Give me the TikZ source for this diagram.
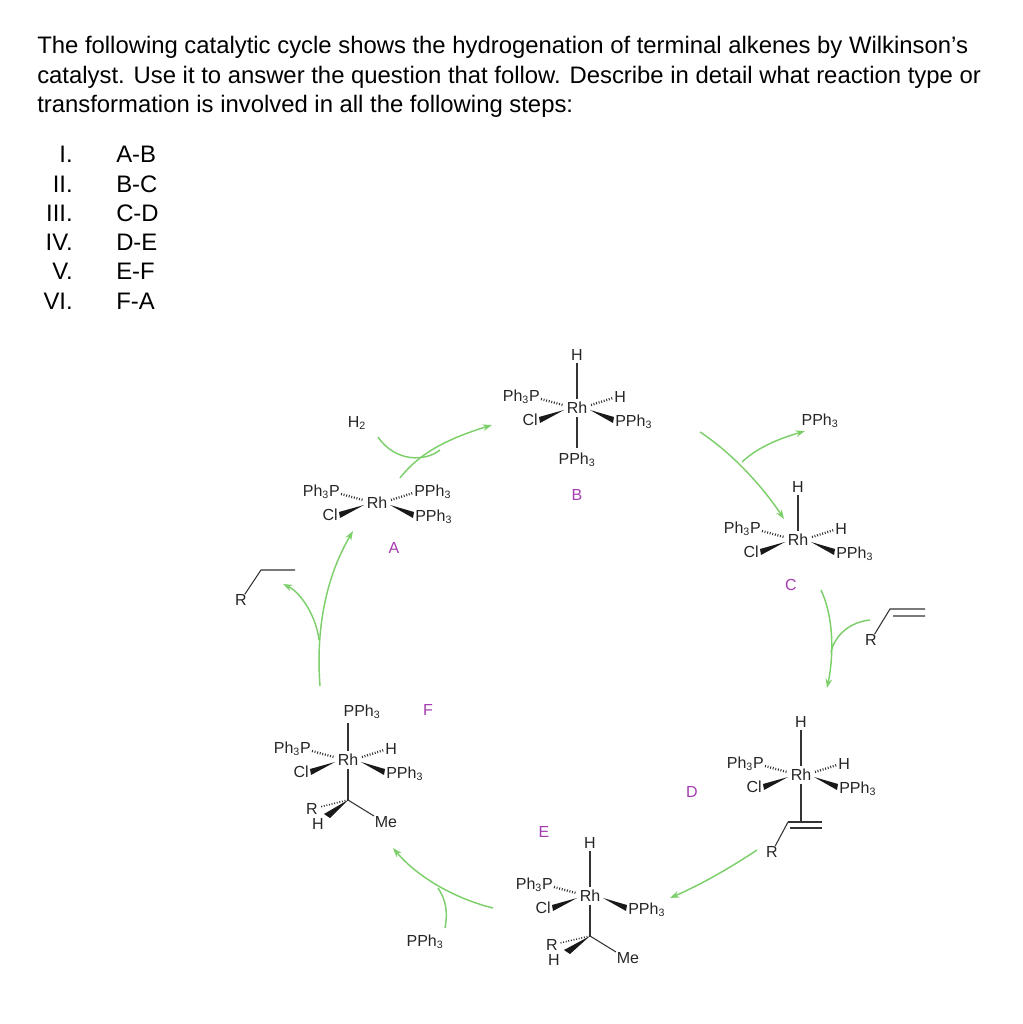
\documentclass[tikz,border=0pt]{standalone}
\usepackage{fontspec}
\setmainfont{Liberation Sans}
\usetikzlibrary{arrows.meta,calc}
\definecolor{arrg}{HTML}{7CCF6A}
\definecolor{mag}{HTML}{A43BB0}
\newcommand\chemf{\fontsize{12}{13}\selectfont}
\newcommand\hdf{\fontsize{17.9}{20}\selectfont}
\tikzset{
 lab/.style={font=\chemf,inner sep=0pt,text=black!85},
 letter/.style={font=\chemf,inner sep=0pt,text=mag},
 hashb/.style={line width=1.8pt,draw=black!80,dash pattern=on 0.7pt off 1.3pt},
 bnd/.style={line width=0.8pt,draw=black!80},
 wdg/.style={fill=black!90},
 arr/.style={draw=arrg,line width=1.1pt,-{Stealth[length=7pt,width=5pt]}},
 cyc/.style={draw=arrg,line width=1.1pt},
 hd/.style={font=\hdf,inner sep=0pt,anchor=base west}
}
% #1 prefix, #2 x, #3 y, #4 hashed-right label, #5 wedge-right label
\newcommand\rhcore[5]{%
\begin{scope}[shift={(#2,#3)}]
 \node[lab] (#1rh) at (0,0) {Rh};
 \node[lab,anchor=east] (#1pl) at (-37,-11) {Ph\textsubscript{3}P};
 \draw[hashb] (-36,-9) -- (-14,-3);
 \node[lab,anchor=east] (#1cl) at (-39,12) {Cl};
 \fill[wdg] (-13,2) -- (-38,9) -- (-37,15) -- cycle;
 \draw[hashb] (14,-3) -- (36,-10);
 \node[lab,anchor=west] (#1hr) at (37,-11) {#4};
 \fill[wdg] (13,2) -- (37,9) -- (36,15) -- cycle;
 \node[lab,anchor=west] (#1wr) at (38,14) {#5};
\end{scope}}
\newcommand\Pph{PPh\textsubscript{3}}
\begin{document}
\begin{tikzpicture}[x=0.75pt,y=-0.75pt]
\useasboundingbox (0,0) rectangle (1023,1024);
% header
\node[hd] (t1) at (37,54) {The following catalytic cycle shows the hydrogenation of terminal alkenes by Wilkinson’s};
\node[hd] (t2) at (37,84) {catalyst. Use it to answer the question that follow. Describe in detail what reaction type or};
\node[hd] (t3) at (37,113) {transformation is involved in all the following steps:};
\foreach \r/\s/\yy in {I./A-B/162,II./B-C/192,III./C-D/221,IV./D-E/250,V./E-F/279,VI./F-A/309}{
 \node[font=\hdf,inner sep=0pt,anchor=base east] at (73,\yy) {\r};
 \node[hd] at (116,\yy) {\s};
}
% A
\rhcore{a}{377}{503}{\Pph}{\Pph}
\node[letter] (la) at (394,548) {A};
% B
\rhcore{b}{577}{408}{H}{\Pph}
\node[lab] (bht) at (577,355) {H};
\draw[bnd] ([yshift=-2pt]bht.south) -- ([yshift=2pt]brh.north);
\node[lab] (bpb) at (577,460) {\Pph};
\draw[bnd] ([yshift=-2pt]brh.south) -- (577,448);
\node[letter] (lb) at (577,495) {B};
% C
\rhcore{c}{798}{540}{H}{\Pph}
\node[lab] (cht) at (798,487) {H};
\draw[bnd] ([yshift=-2pt]cht.south) -- ([yshift=2pt]crh.north);
\node[letter] (lc) at (791,585) {C};
% D
\rhcore{d}{801}{775}{H}{\Pph}
\node[lab] (dht) at (801,722) {H};
\draw[bnd] ([yshift=-2pt]dht.south) -- ([yshift=2pt]drh.north);
\coordinate (dc) at (801,822);
\draw[bnd] ([yshift=-2pt]drh.south) -- (dc);
\draw[bnd] (788,822) -- (822,822) (790,828) -- (822,828);
\node[lab] (dr) at (772,852) {R};
\draw[bnd] (788,822) -- (dr);
\node[letter] (ld) at (692,792) {D};
% E
\begin{scope}[shift={(590,896)}]
 \node[lab] (erh) at (0,0) {Rh};
 \node[lab,anchor=east] (epl) at (-37,-11) {Ph\textsubscript{3}P};
 \draw[hashb] (-36,-9) -- (-14,-3);
 \node[lab,anchor=east] (ecl) at (-39,12) {Cl};
 \fill[wdg] (-13,2) -- (-38,9) -- (-37,15) -- cycle;
 \fill[wdg] (13,2) -- (37,9) -- (36,15) -- cycle;
 \node[lab,anchor=west] (ewr) at (38,14) {\Pph};
 \node[lab] (eht) at (0,-53) {H};
 \draw[bnd] ([yshift=-2pt]eht.south) -- ([yshift=2pt]erh.north);
 \coordinate (ec) at (0,40);
 \draw[bnd] ([yshift=-2pt]erh.south) -- (ec);
 \node[lab] (eme) at (38,62) {Me};
 \draw[bnd] (ec) -- (26,56);
 \node[lab] (er) at (-38,49) {R};
 \draw[hashb,line width=1.2pt] (ec) -- (-30,47);
 \node[lab] (eh) at (-36,64) {H};
 \fill[wdg] (ec) -- (-20,58) -- (-26,54) -- cycle;
\end{scope}
\node[letter] (le) at (544,832) {E};
% F
\rhcore{f}{348}{760}{H}{\Pph}
\node[lab] (fpt) at (362,712) {\Pph};
\draw[bnd] (348,723) -- ([yshift=2pt]frh.north);
\begin{scope}[shift={(348,760)}]
 \coordinate (fc) at (0,40);
 \draw[bnd] ([yshift=-2pt]frh.south) -- (fc);
 \node[lab] (fme) at (38,62) {Me};
 \draw[bnd] (fc) -- (26,56);
 \node[lab] (fr) at (-36,49) {R};
 \draw[hashb,line width=1.2pt] (fc) -- (-28,47);
 \node[lab] (fh) at (-30,64) {H};
 \fill[wdg] (fc) -- (-18,58) -- (-24,54) -- cycle;
\end{scope}
\node[letter] (lf) at (428,710) {F};
% free species
\node[lab] (h2) at (357,423) {H\textsubscript{2}};
\node[lab] (p1) at (820,421) {\Pph};
\node[lab] (p2) at (425,942) {\Pph};
\node[lab] (ra) at (241,600) {R};
\draw[bnd] (ra) -- (261,570) -- (295,570);
\node[lab] (rb) at (871,640) {R};
\draw[bnd] (rb) -- (890,609) -- (925,609) (893,616) -- (925,616);
% arrows
\draw[arr] (400,478) .. controls (420,452) and (450,438) .. (492,425);
\draw[cyc] (378,437) .. controls (395,462) and (425,462) .. (440,450);
\draw[arr] (700,432) .. controls (735,455) and (765,490) .. (784,519);
\draw[arr] (742,462) .. controls (760,445) and (785,437) .. (805,431);
\draw[arr] (821,590) .. controls (835,620) and (833,660) .. (827,688);
\draw[cyc] (870,620) .. controls (850,622) and (835,635) .. (831,652);
\draw[arr] (757,850) .. controls (730,868) and (700,885) .. (670,898);
\draw[arr] (493,908) .. controls (460,900) and (420,880) .. (393,848);
\draw[cyc] (445,928) .. controls (448,912) and (446,900) .. (438,888);
\draw[arr] (320,686) .. controls (315,620) and (330,570) .. (353,531);
\draw[arr] (319,640) .. controls (316,615) and (300,592) .. (283,584);
\end{tikzpicture}
\end{document}
